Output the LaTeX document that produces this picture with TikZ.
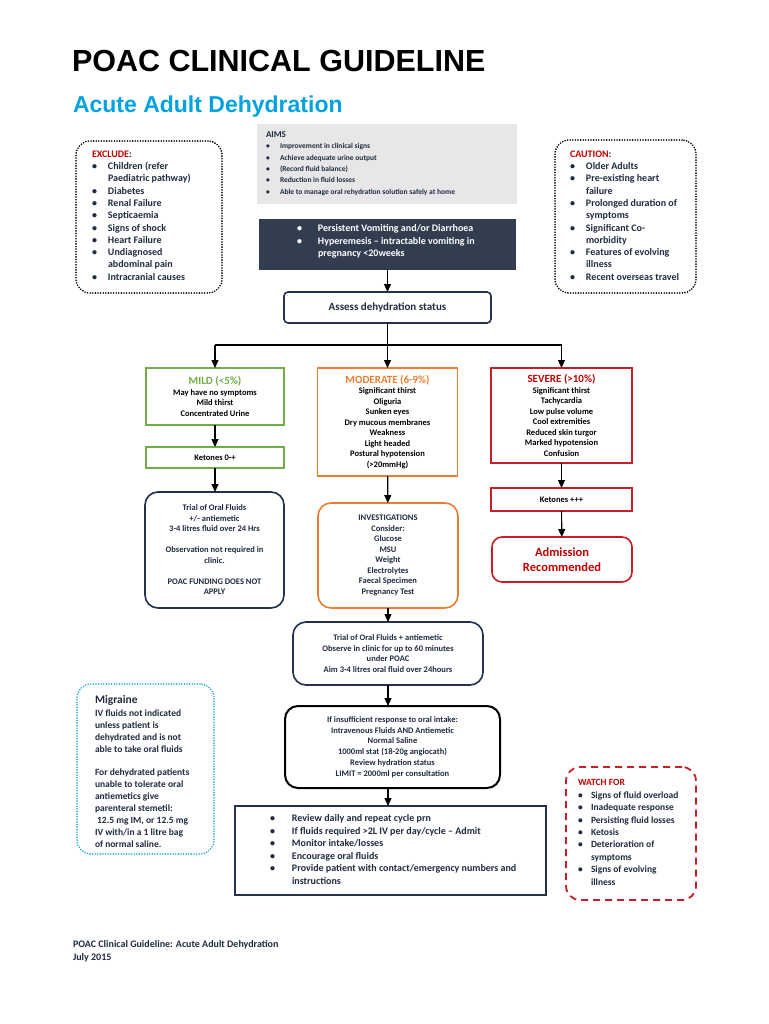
\documentclass[tikz,border=0pt]{standalone}
\usepackage{fontspec}
\setmainfont{Carlito}
\newfontfamily\arialfont{Liberation Sans}
\usetikzlibrary{arrows.meta}
\definecolor{txtnavy}{RGB}{33,43,64}
\definecolor{poacblue}{RGB}{0,163,224}
\definecolor{mildgreen}{RGB}{112,173,71}
\definecolor{modorange}{RGB}{237,125,49}
\definecolor{sevred}{RGB}{192,0,0}
\definecolor{boxred}{RGB}{200,30,40}
\definecolor{slate}{RGB}{50,62,80}
\definecolor{aimsgrey}{RGB}{231,231,231}
\definecolor{navyline}{RGB}{36,48,78}
\definecolor{migcyan}{RGB}{35,170,215}
\newcommand{\fsz}[2]{\fontsize{#1}{#2}\selectfont}
\newcommand{\bu}[1][16pt]{\makebox[#1][l]{\textbullet}}
\newcommand{\ind}[1][16pt]{\hspace*{#1}}
\tikzset{
  >={Triangle[length=8pt,width=7pt]}, % filled arrow heads
  every node/.style={inner sep=0pt, outer sep=0pt, text=txtnavy},
  dotbox/.style={draw, line width=1.8pt, dash pattern=on 0pt off 2.6pt, line cap=round, rounded corners=14pt},
  dashbox/.style={draw, line width=1.8pt, dash pattern=on 7pt off 5pt, rounded corners=14pt},
  sqbox/.style={draw, line width=1.6pt},
  roundbox/.style={draw, line width=1.6pt, rounded corners=13pt},
  boxtext/.style={align=center, font=\bfseries\fsz{8.5}{10.5}},
  listtext/.style={anchor=west, align=left, font=\bfseries\fsz{10}{12.3}},
  flow/.style={->, line width=1.1pt, black},
  link/.style={line width=1.1pt, black}
}
\begin{document}
\begin{tikzpicture}[x=1pt, y=-1pt]
  \useasboundingbox[fill=white] (0,0) rectangle (768,1024);

  % Title
  \node[anchor=base west, text=black, font=\arialfont\bfseries\fsz{30.5}{31}] (title) at (72,72) {POAC CLINICAL GUIDELINE};
  \node[anchor=base west, text=poacblue, font=\arialfont\bfseries\fsz{23}{23}] (subtitle) at (73,113) {Acute Adult Dehydration};

  % Exclude / caution
  \node[dotbox, minimum width=146, minimum height=152] (exclude) at (149,217) {};
  \node[listtext] (excludetxt) at (92,215.5) {{\color{sevred}EXCLUDE}:\\
    \bu Children (refer\\ \ind Paediatric pathway)\\ \bu Diabetes\\ \bu Renal Failure\\
    \bu Septicaemia\\ \bu Signs of shock\\ \bu Heart Failure\\ \bu Undiagnosed\\
    \ind abdominal pain\\ \bu Intracranial causes};
  \node[dotbox, minimum width=141, minimum height=153] (caution) at (625.5,216.5) {};
  \node[listtext] (cautiontxt) at (570,215.5) {{\color{sevred}CAUTION}:\\
    \bu Older Adults\\ \bu Pre-existing heart\\ \ind failure\\ \bu Prolonged duration of\\
    \ind symptoms\\ \bu Significant Co-\\ \ind morbidity\\ \bu Features of evolving\\
    \ind illness\\ \bu Recent overseas travel};

  % Aims
  \node[fill=aimsgrey, minimum width=260, minimum height=80] (aims) at (387,164) {};
  \node[listtext, font=\bfseries\fsz{7.5}{11.4}] (aimstxt) at (266,163.5) {{\fsz{9}{11.4}AIMS}\\
    \bu[14pt]Improvement in clinical signs\\ \bu[14pt]Achieve adequate urine output\\
    \bu[14pt](Record fluid balance)\\ \bu[14pt]Reduction in fluid losses\\
    \bu[14pt]Able to manage oral rehydration solution safely at home};

  % Presenting problem
  \node[fill=slate, minimum width=257, minimum height=51] (trigger) at (387.5,244.5) {};
  \node[listtext, text=white, font=\bfseries\fsz{10}{12.5}] (triggertxt) at (297,241.5) {%
    \bu[21pt]Persistent Vomiting and/or Diarrhoea\\
    \bu[21pt]Hyperemesis – intractable vomiting in\\ \ind[21pt]pregnancy <20weeks};
  \node[roundbox, rounded corners=4pt, draw=navyline, minimum width=207, minimum height=31,
    font=\bfseries\fsz{11}{13}] (assess) at (387.5,307.5) {Assess dehydration status};

  % Severity
  \node[sqbox, draw=mildgreen, minimum width=138, minimum height=57, boxtext, text=black] (mild) at (215,396.5)
    {{\color{mildgreen}\fsz{11}{11.5}MILD (<5\%)}\\ May have no symptoms\\ Mild thirst\\ Concentrated Urine};
  \node[sqbox, draw=modorange, minimum width=140, minimum height=108, boxtext, text=black] (moderate) at (387.5,422)
    {{\color{modorange}\fsz{11}{11.5}MODERATE (6-9\%)}\\ Significant thirst\\ Oliguria\\ Sunken eyes\\
     Dry mucous membranes\\ Weakness\\ Light headed\\ Postural hypotension\\ (>20mmHg)};
  \node[sqbox, draw=boxred, minimum width=141, minimum height=95, boxtext, text=black] (severe) at (561.5,415.5)
    {{\color{sevred}\fsz{11}{11.5}SEVERE (>10\%)}\\ Significant thirst\\ Tachycardia\\ Low pulse volume\\
     Cool extremities\\ Reduced skin turgor\\ Marked hypotension\\ Confusion};

  % Ketones
  \node[sqbox, draw=mildgreen, minimum width=138, minimum height=21, boxtext, text=black] (ketmild) at (215,457.5) {Ketones 0-+};
  \node[sqbox, draw=boxred, minimum width=141, minimum height=23, boxtext, text=black] (ketsev) at (561.5,499.5) {Ketones +++};

  % Management
  \node[roundbox, draw=navyline, minimum width=139, minimum height=116, boxtext] (oralmild) at (214.5,550)
    {Trial of Oral Fluids\\ +/- antiemetic\\ 3-4 litres fluid over 24 Hrs\\[10.5pt]
     Observation not required in\\ clinic.\\[10.5pt] POAC FUNDING DOES NOT\\ APPLY};
  \node[roundbox, draw=modorange, minimum width=140, minimum height=105, boxtext] (investig) at (388,555.5)
    {INVESTIGATIONS\\ Consider:\\ Glucose\\ MSU\\ Weight\\ Electrolytes\\ Faecal Specimen\\ Pregnancy Test};
  \node[roundbox, rounded corners=10pt, draw=boxred, minimum width=140, minimum height=45, align=center,
    text=sevred, font=\bfseries\fsz{12.5}{15}] (admit) at (562,559.5) {Admission\\ Recommended};
  \node[roundbox, draw=navyline, minimum width=190, minimum height=63, boxtext] (oraltrial) at (388,653.5)
    {Trial of Oral Fluids + antiemetic\\ Observe in clinic for up to 60 minutes\\ under POAC\\
     Aim 3-4 litres oral fluid over 24hours};
  \node[roundbox, draw=black, line width=2pt, minimum width=215, minimum height=82, boxtext,
    font=\bfseries\fsz{8.5}{10.8}] (ivfluids) at (392.5,747)
    {If insufficient response to oral intake:\\ Intravenous Fluids AND Antiemetic\\ Normal Saline\\
     1000ml stat (18-20g angiocath)\\ Review hydration status\\ LIMIT = 2000ml per consultation};
  \node[sqbox, draw=navyline, minimum width=311, minimum height=89] (review) at (390.5,850.5) {};
  \node[listtext, font=\bfseries\fsz{10}{12.6}] (reviewtxt) at (270,849.5) {%
    \bu[22pt]Review daily and repeat cycle prn\\
    \bu[22pt]If fluids required >2L IV per day/cycle – Admit\\
    \bu[22pt]Monitor intake/losses\\ \bu[22pt]Encourage oral fluids\\
    \bu[22pt]Provide patient with contact/emergency numbers and\\ \ind[22pt]instructions};

  % Migraine
  \node[dotbox, draw=migcyan, minimum width=137, minimum height=170] (migraine) at (145.5,769) {};
  \node[anchor=west, font=\bfseries\fsz{11.5}{13}] (migrainehd) at (95,700) {Migraine};
  \node[listtext, font=\bfseries\fsz{9.5}{11.9}] (migrainetxt) at (95,778.5) {%
    IV fluids not indicated\\ unless patient is\\ dehydrated and is not\\ able to take oral fluids\\[11.9pt]
    For dehydrated patients\\ unable to tolerate oral\\ antiemetics give\\ parenteral stemetil:\\
    \ 12.5 mg IM, or 12.5 mg\\ IV with/in a 1 litre bag\\ of normal saline.};

  % Watch for
  \node[dashbox, draw=boxred, minimum width=130, minimum height=133] (watch) at (631,833.5) {};
  \node[listtext, font=\bfseries\fsz{9.5}{12.4}] (watchtxt) at (578,832.5) {{\color{sevred}WATCH FOR}\\
    \bu[13pt]Signs of fluid overload\\ \bu[13pt]Inadequate response\\ \bu[13pt]Persisting fluid losses\\
    \bu[13pt]Ketosis\\ \bu[13pt]Deterioration of\\ \ind[13pt]symptoms\\ \bu[13pt]Signs of evolving\\
    \ind[13pt]illness};

  % Footer
  \node[anchor=west, align=left, font=\bfseries\fsz{10}{13}] (footer) at (73,951.5)
    {POAC Clinical Guideline: Acute Adult Dehydration\\ July 2015};

  % Connectors
  \coordinate (split) at (387.5,345);
  \draw[flow] (trigger) -- (assess);
  \draw[link] (assess) -- (split);
  \draw[link] (split -| mild.north) -- (split -| severe.north);
  \draw[flow] (split -| mild.north) -- (mild);
  \draw[flow] (split) -- (moderate);
  \draw[flow] (split -| severe.north) -- (severe);
  \draw[flow] (mild) -- (ketmild);
  \draw[flow] (ketmild.south) -- (ketmild.south |- oralmild.north);
  \draw[flow] (moderate) -- (investig);
  \draw[flow] (investig) -- (oraltrial);
  \draw[flow] (oraltrial.south) -- (oraltrial.south |- ivfluids.north);
  \draw[flow] (oraltrial.south |- ivfluids.south) -- (oraltrial.south |- review.north);
  \draw[flow] (severe) -- (ketsev);
  \draw[flow] (ketsev) -- (admit);
\end{tikzpicture}
\end{document}
